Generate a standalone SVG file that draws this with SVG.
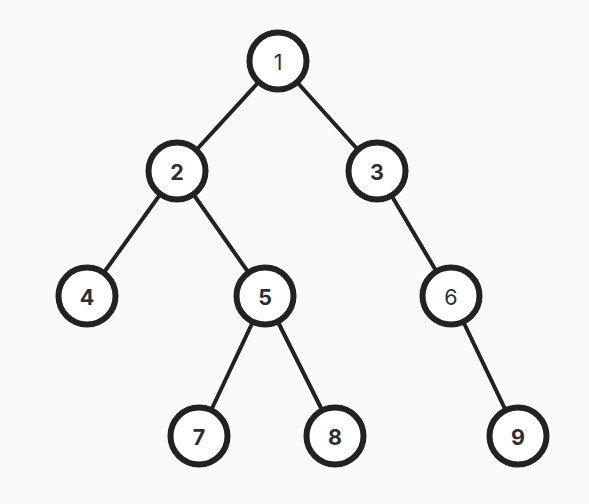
<svg xmlns="http://www.w3.org/2000/svg" width="589" height="504" viewBox="0 0 589 504">
<style>
.bg{fill:#fafafa}
.edge{stroke:#222;stroke-width:4;fill:none}
.node circle{fill:#fff;stroke:#222;stroke-width:6}
.node text{font-family:Inter,"Liberation Sans",sans-serif;font-size:21.5px;fill:#2e2e2e;text-anchor:middle;dominant-baseline:central}
.b text{font-weight:700}
</style>
<rect class="bg" width="589" height="504"/>
<g id="edges">
<line class="edge" x1="278" y1="61" x2="177" y2="171"/>
<line class="edge" x1="278" y1="61" x2="377" y2="171"/>
<line class="edge" x1="177" y1="171" x2="87" y2="296"/>
<line class="edge" x1="177" y1="171" x2="265" y2="296"/>
<line class="edge" x1="377" y1="171" x2="451" y2="296"/>
<line class="edge" x1="265" y1="296" x2="199" y2="436"/>
<line class="edge" x1="265" y1="296" x2="335" y2="436"/>
<line class="edge" x1="451" y1="296" x2="518" y2="436"/>
</g>
<g id="n1" class="node"><circle cx="278" cy="61" r="28.5"/><text x="278" y="62">1</text></g>
<g id="n2" class="node b"><circle cx="177" cy="171" r="28.5"/><text x="177" y="172">2</text></g>
<g id="n3" class="node b"><circle cx="377" cy="171" r="28.5"/><text x="377" y="172">3</text></g>
<g id="n4" class="node b"><circle cx="87" cy="296" r="28.5"/><text x="87" y="297">4</text></g>
<g id="n5" class="node b"><circle cx="265" cy="296" r="28.5"/><text x="265" y="297">5</text></g>
<g id="n6" class="node"><circle cx="451" cy="296" r="28.5"/><text x="451" y="297">6</text></g>
<g id="n7" class="node b"><circle cx="199" cy="436" r="28.5"/><text x="199" y="437">7</text></g>
<g id="n8" class="node b"><circle cx="335" cy="436" r="28.5"/><text x="335" y="437">8</text></g>
<g id="n9" class="node b"><circle cx="518" cy="436" r="28.5"/><text x="518" y="437">9</text></g>
</svg>
